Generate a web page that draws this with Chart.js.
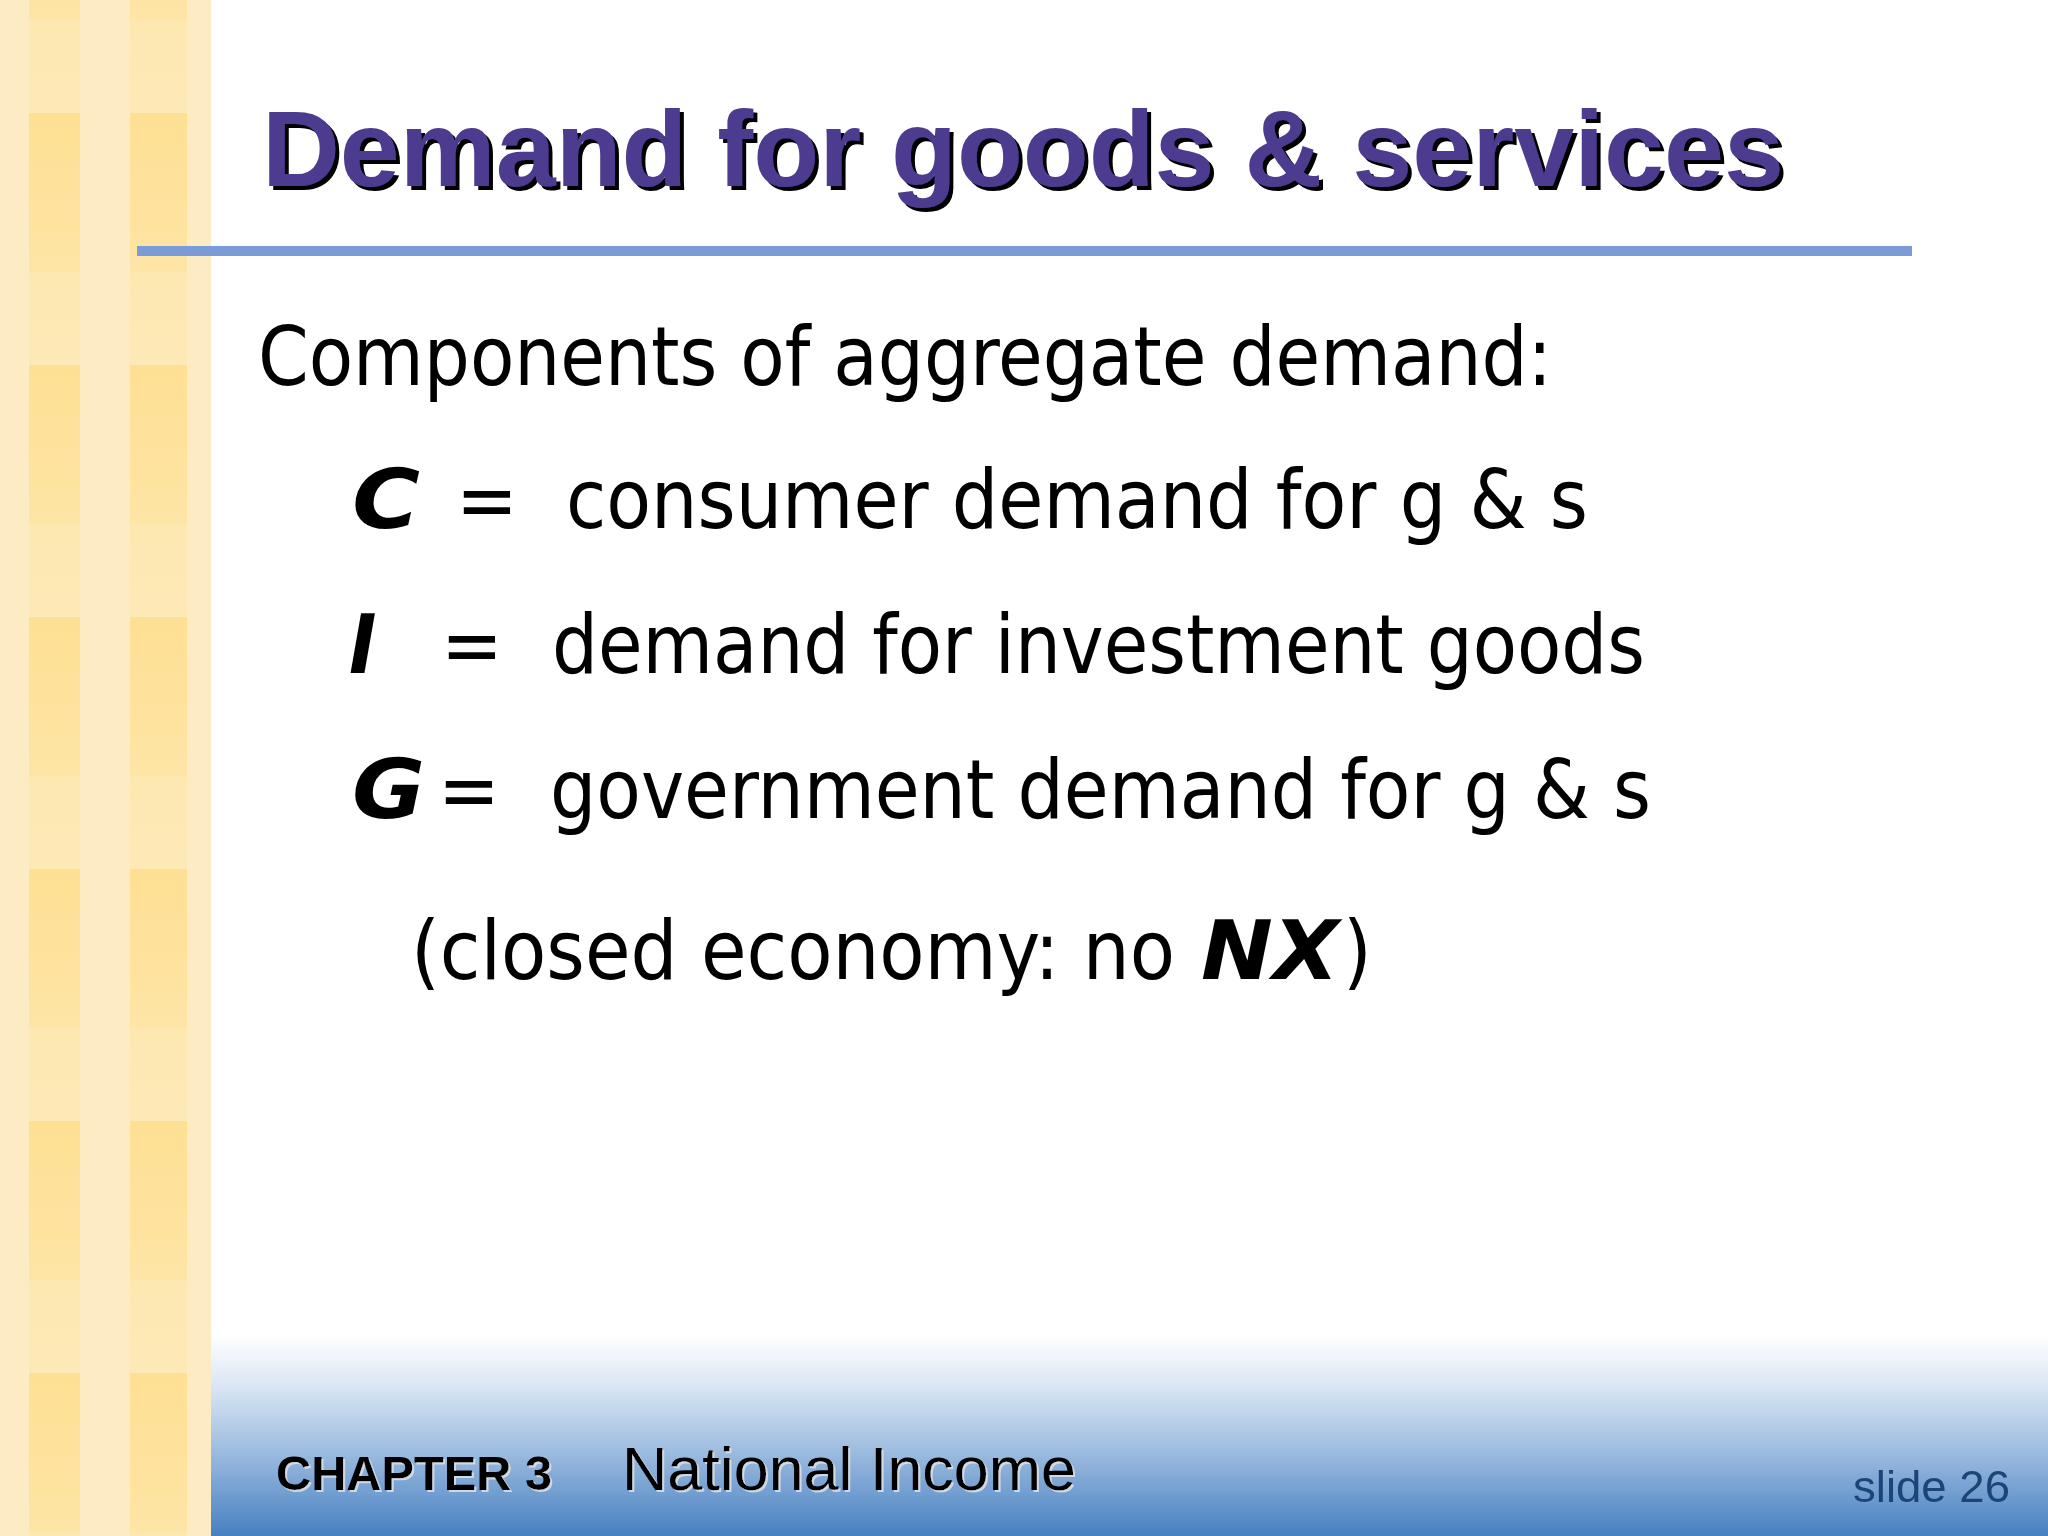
<!DOCTYPE html>
<html>
<head>
<meta charset="utf-8">
<script src="https://cdn.jsdelivr.net/npm/chart.js@4"></script>
<style>
  html, body { margin: 0; padding: 0; background: #ffffff; }
  #stage { position: relative; width: 2048px; height: 1536px; overflow: hidden; }
  #bg { position: absolute; left: 0; top: 0; }
  #txt { position: absolute; left: 0; top: 0; }
</style>
</head>
<body>
<div id="stage">
  <canvas id="bg" width="2048" height="1536"></canvas>
  <svg id="txt" width="2048" height="1536" xmlns="http://www.w3.org/2000/svg"></svg>
</div>
<script>
// ---- slide content ----
const titleText = ['Demand for goods & services'];
const introText = ['Components of aggregate demand:'];
const symbols = ['C', 'I', 'G'];
const equalsSigns = ['=', '=', '='];
const definitions = ['consumer demand for g & s', 'demand for investment goods', 'government demand for g & s'];
const noteText = ['(closed economy: no', 'NX', ')'];
const footerText = ['CHAPTER 3', 'National Income', 'slide 26'];

// ---- layout (positions / styles) ----
const BODY_FONT = '"DejaVu Sans Condensed", "DejaVu Sans", sans-serif';
const ARIAL = '"Liberation Sans", Arial, sans-serif';
const bodyBaselines = [528, 673, 818];
const symbolX = [352, 349, 352];
const symbolLen = [68, 0, 73];
const equalsX = [456, 441, 438];
const defX = [566, 552, 550];
const defLen = [1022, 1093, 1101];

// ---- background decoration drawn by Chart.js plugin ----
const slideDecor = {
  id: 'slideDecor',
  beforeDraw(chart) {
    const ctx = chart.ctx;
    const W = chart.width, H = chart.height;
    ctx.save();
    ctx.fillStyle = '#ffffff';
    ctx.fillRect(0, 0, W, H);
    // footer gradient
    const fg = ctx.createLinearGradient(0, 1334, 0, H);
    fg.addColorStop(0, '#ffffff');
    fg.addColorStop(0.25, '#dbe7f4');
    fg.addColorStop(0.55, '#a3c0e1');
    fg.addColorStop(1, '#4680c2');
    ctx.fillStyle = fg;
    ctx.fillRect(211, 1334, W - 211, H - 1334);
    // left striped panel
    ctx.fillStyle = '#fdebc3';
    ctx.fillRect(0, 0, 211, H);
    const cols = [[29, 51], [130, 57]];
    for (const [cx, cw] of cols) {
      for (let y0 = -139; y0 < H; y0 += 252) {
        const g = ctx.createLinearGradient(0, y0, 0, y0 + 252);
        g.addColorStop(0, '#fee094');
        g.addColorStop(0.45, '#fee39f');
        g.addColorStop(0.62, '#fde5a6');
        g.addColorStop(0.64, '#fde8b2');
        g.addColorStop(1, '#fde9b6');
        ctx.fillStyle = g;
        ctx.fillRect(cx, y0, cw, 252);
      }
    }
    // title rule
    ctx.fillStyle = '#7a9ad8';
    ctx.fillRect(137, 246, 1775, 10);
    ctx.restore();
  }
};

new Chart(document.getElementById('bg'), {
  type: 'bar',
  data: { labels: [], datasets: [] },
  options: {
    responsive: false,
    maintainAspectRatio: false,
    animation: false,
    devicePixelRatio: 1,
    layout: { padding: 0 },
    plugins: { legend: { display: false }, tooltip: { enabled: false }, title: { display: false } },
    scales: { x: { display: false }, y: { display: false } }
  },
  plugins: [slideDecor]
});

// ---- text layer ----
const NS = 'http://www.w3.org/2000/svg';
const svg = document.getElementById('txt');
const defs = document.createElementNS(NS, 'defs');
defs.innerHTML =
  '<filter id="titleShadow" x="-5%" y="-30%" width="110%" height="160%">' +
  '<feDropShadow dx="4" dy="4" stdDeviation="0.3" flood-color="#000000" flood-opacity="1"/></filter>' +
  '<filter id="footShadow" x="-5%" y="-30%" width="110%" height="160%">' +
  '<feDropShadow dx="2" dy="2" stdDeviation="0.5" flood-color="#d9dde3" flood-opacity="0.9"/></filter>';
svg.appendChild(defs);

function addText(str, x, y, opts) {
  const t = document.createElementNS(NS, 'text');
  t.setAttribute('x', x);
  t.setAttribute('y', y);
  t.setAttribute('font-family', opts.family);
  t.setAttribute('font-size', opts.size);
  if (opts.weight) t.setAttribute('font-weight', opts.weight);
  if (opts.style) t.setAttribute('font-style', opts.style);
  t.setAttribute('fill', opts.fill || '#000000');
  if (opts.len) {
    t.setAttribute('textLength', opts.len);
    t.setAttribute('lengthAdjust', 'spacingAndGlyphs');
  }
  if (opts.filter) t.setAttribute('filter', 'url(#' + opts.filter + ')');
  t.setAttribute('xml:space', 'preserve');
  t.textContent = str;
  svg.appendChild(t);
  return t;
}

// title
addText(titleText[0], 262, 186, { family: ARIAL, size: 107, weight: 'bold', fill: '#4e3b8f', len: 1522, filter: 'titleShadow' });

// intro line
addText(introText[0], 258, 385, { family: BODY_FONT, size: 82, len: 1294 });

// C, I, G rows
symbols.forEach((s, i) => {
  addText(s, symbolX[i], bodyBaselines[i], { family: BODY_FONT, size: 82, weight: 'bold', style: 'italic', len: symbolLen[i] || null });
  addText(equalsSigns[i], equalsX[i], bodyBaselines[i], { family: BODY_FONT, size: 82 });
  addText(definitions[i], defX[i], bodyBaselines[i], { family: BODY_FONT, size: 82, len: defLen[i] });
});

// closed economy note
addText(noteText[0], 411, 979, { family: BODY_FONT, size: 82, len: 764 });
addText(noteText[1], 1201, 979, { family: BODY_FONT, size: 82, weight: 'bold', style: 'italic', len: 138 });
addText(noteText[2], 1343, 979, { family: BODY_FONT, size: 82 });

// footer
addText(footerText[0], 276, 1490, { family: ARIAL, size: 48, weight: 'bold', len: 276, filter: 'footShadow' });
addText(footerText[1], 622, 1490, { family: ARIAL, size: 62, len: 454, filter: 'footShadow' });
addText(footerText[2], 1853, 1502, { family: ARIAL, size: 45, fill: '#1d4478', len: 157 });
</script>
</body>
</html>
